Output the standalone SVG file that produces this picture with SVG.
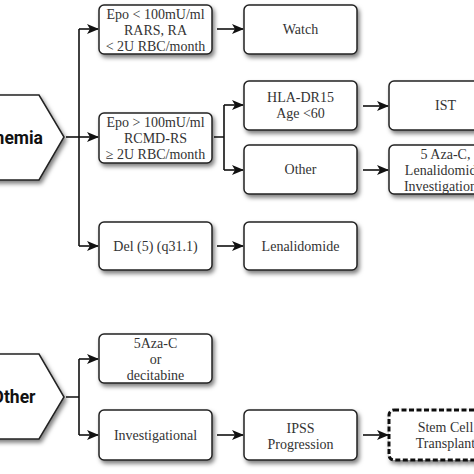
<svg xmlns="http://www.w3.org/2000/svg" width="474" height="474" viewBox="0 0 474 474">
<defs>
<filter id="sh" x="-20%" y="-20%" width="150%" height="160%">
<feDropShadow dx="2" dy="3" stdDeviation="2" flood-color="#000" flood-opacity="0.5"/>
</filter>
<marker id="ah" viewBox="0 0 12 10" refX="11" refY="5" markerWidth="12" markerHeight="10" markerUnits="userSpaceOnUse" orient="auto">
<path d="M0,0 L12,5 L0,10 L3,5 z" fill="#111"/>
</marker>
<style>
.box{fill:#fff;stroke:#222;stroke-width:1.5;filter:url(#sh)}
.dash{fill:#fff;stroke:#111;stroke-width:3;stroke-dasharray:5 2.5;filter:url(#sh)}
.hex{fill:#fff;stroke:#222;stroke-width:1.5;filter:url(#sh)}
.t{font-family:"Liberation Serif","Times New Roman",serif;font-size:14px;fill:#333;text-anchor:middle}
.h{font-family:Roboto,"Open Sans",sans-serif;font-weight:bold;font-size:17.5px;fill:#111;text-anchor:end}
.c{fill:none;stroke:#111;stroke-width:1.6}
.a{fill:none;stroke:#111;stroke-width:1.6;marker-end:url(#ah)}
</style>
</defs>
<rect width="474" height="474" fill="#fff"/>

<g id="connectors">
<path class="c" d="M79,29 V246"/>
<path class="a" d="M79,29 H98"/>
<path class="a" d="M66,137 H98"/>
<path class="a" d="M79,246 H98"/>
<path class="a" d="M217,29 H243"/>
<path class="c" d="M214,137 H224 M224,105 V170"/>
<path class="a" d="M224,105 H243"/>
<path class="a" d="M224,170 H243"/>
<path class="a" d="M363,106 H388"/>
<path class="a" d="M363,170 H388"/>
<path class="a" d="M217,246 H243"/>
<path class="c" d="M66,397 H79 M79,359 V435"/>
<path class="a" d="M79,359 H98"/>
<path class="a" d="M79,435 H98"/>
<path class="a" d="M217,435 H243"/>
<path class="a" d="M363,435 H388"/>
</g>

<g id="anemia">
<polygon class="hex" points="-60,137 -35,95 39,95 64,137 39,180 -35,180"/>
<text class="h" x="43" y="143.5">Anemia</text>
</g>
<g id="other-hex">
<polygon class="hex" points="-60,397 -35,354 39,354 64,397 39,439 -35,439"/>
<text class="h" x="35.5" y="402.5">Other</text>
</g>

<g id="epo-low">
<rect class="box" x="99" y="5" width="113" height="49" rx="5"/>
<text class="t" x="155.5" y="18.5">Epo &lt; 100mU/ml</text>
<text class="t" x="155.5" y="34.5">RARS, RA</text>
<text class="t" x="155.5" y="50.5">&lt; 2U RBC/month</text>
</g>
<g id="watch">
<rect class="box" x="244" y="5" width="113" height="49" rx="5"/>
<text class="t" x="300.5" y="34">Watch</text>
</g>
<g id="epo-high">
<rect class="box" x="99" y="113" width="113" height="50" rx="5"/>
<text class="t" x="155.5" y="126.5">Epo &gt; 100mU/ml</text>
<text class="t" x="155.5" y="142.5">RCMD-RS</text>
<text class="t" x="155.5" y="158.5">≥ 2U RBC/month</text>
</g>
<g id="hla">
<rect class="box" x="244" y="81" width="113" height="49" rx="5"/>
<text class="t" x="300.5" y="102">HLA-DR15</text>
<text class="t" x="300.5" y="118">Age &lt;60</text>
</g>
<g id="ist">
<rect class="box" x="389" y="81" width="113" height="49" rx="5"/>
<text class="t" x="445.5" y="110">IST</text>
</g>
<g id="other-box">
<rect class="box" x="244" y="145" width="113" height="49" rx="5"/>
<text class="t" x="300.5" y="174">Other</text>
</g>
<g id="aza-len">
<rect class="box" x="389" y="145" width="113" height="49" rx="5"/>
<text class="t" x="445.5" y="158.5">5 Aza-C,</text>
<text class="t" x="445.5" y="174.5">Lenalidomide,</text>
<text class="t" x="445.5" y="190.5">Investigational</text>
</g>
<g id="del5">
<rect class="box" x="99" y="222" width="113" height="48" rx="5"/>
<text class="t" x="155.5" y="250.5">Del (5) (q31.1)</text>
</g>
<g id="lenalidomide">
<rect class="box" x="244" y="222" width="113" height="48" rx="5"/>
<text class="t" x="300.5" y="250.5">Lenalidomide</text>
</g>
<g id="aza-dec">
<rect class="box" x="99" y="334" width="113" height="49" rx="5"/>
<text class="t" x="155.5" y="347.5">5Aza-C</text>
<text class="t" x="155.5" y="363.5">or</text>
<text class="t" x="155.5" y="379.5">decitabine</text>
</g>
<g id="investigational">
<rect class="box" x="99" y="410" width="113" height="50" rx="5"/>
<text class="t" x="155.5" y="439.5">Investigational</text>
</g>
<g id="ipss">
<rect class="box" x="244" y="410" width="113" height="50" rx="5"/>
<text class="t" x="300.5" y="432.5">IPSS</text>
<text class="t" x="300.5" y="448.5">Progression</text>
</g>
<g id="stem-cell">
<rect class="dash" x="389" y="410" width="113" height="50" rx="5"/>
<text class="t" x="445.5" y="432">Stem Cell</text>
<text class="t" x="445.5" y="448">Transplant</text>
</g>
</svg>
